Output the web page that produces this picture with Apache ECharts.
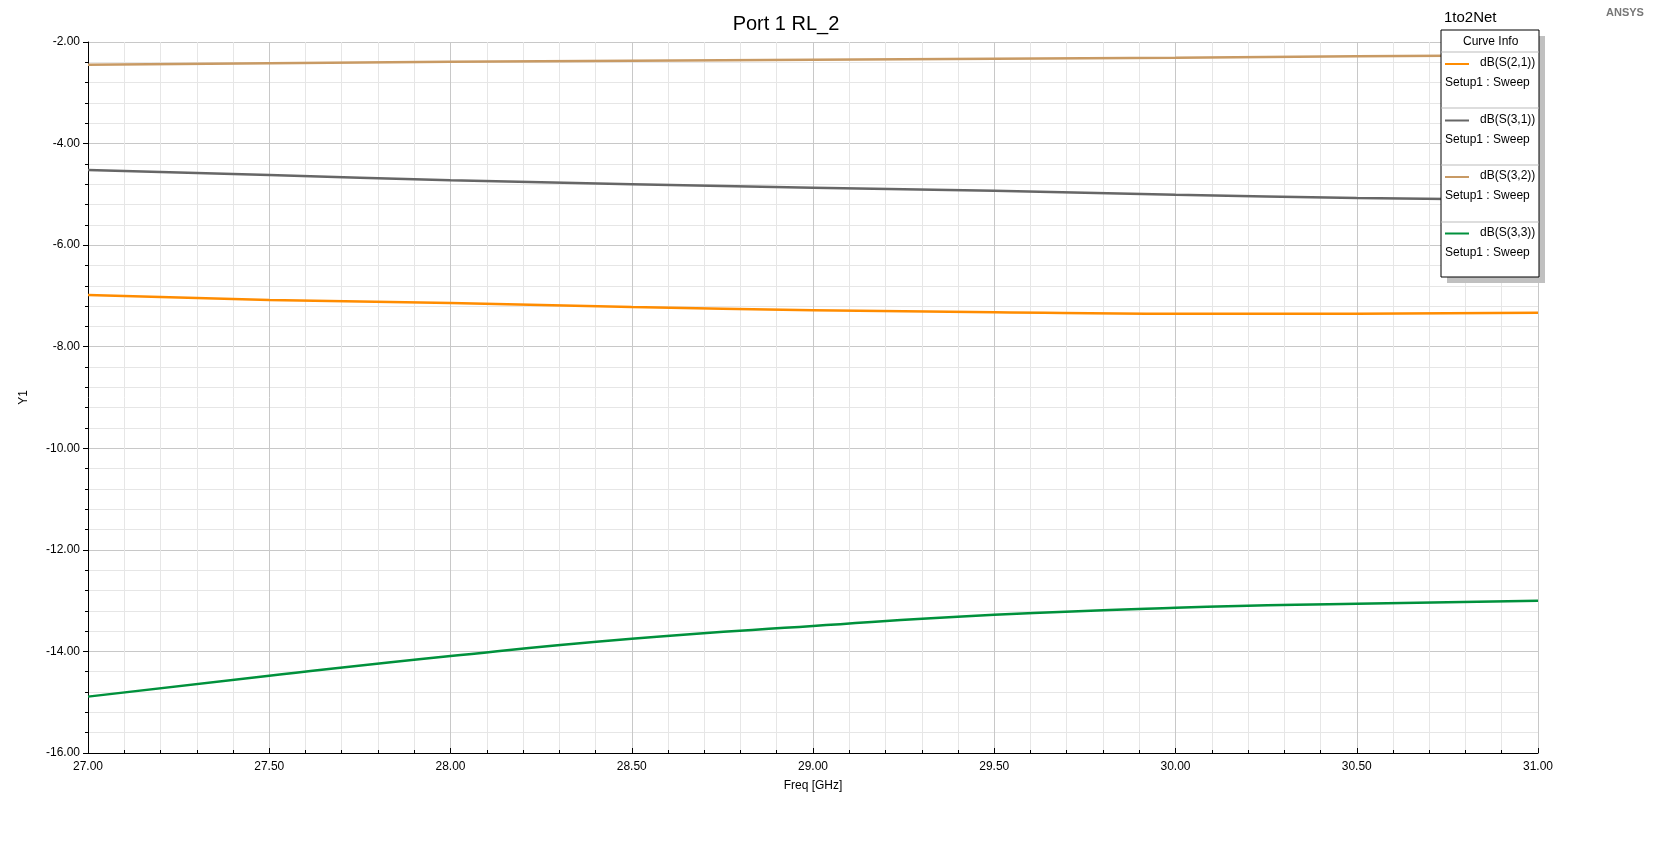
<!DOCTYPE html>
<html>
<head>
<meta charset="utf-8">
<script src="https://cdn.jsdelivr.net/npm/echarts@6/dist/echarts.min.js"></script>
<style>html,body{margin:0;padding:0;background:#fff}#c{width:1665px;height:860px}</style>
</head>
<body>
<div id="c"></div>
<script>
var freq = [27, 27.5, 28, 28.5, 29, 29.5, 30, 30.5, 31]
var s21 = [-6.98, -7.08, -7.14, -7.22, -7.28, -7.32, -7.35, -7.35, -7.33]
var s31 = [-4.52, -4.62, -4.72, -4.80, -4.87, -4.93, -5.01, -5.07, -5.11]
var s32 = [-2.45, -2.42, -2.39, -2.37, -2.35, -2.33, -2.31, -2.28, -2.26]
var s33 = [-14.89, -14.48, -14.09, -13.75, -13.50, -13.28, -13.14, -13.06, -13.00]
var names = ['dB(S(2,1))', 'dB(S(3,1))', 'dB(S(3,2))', 'dB(S(3,3))']
var colors = ['#ff8c00', '#666666', '#c89a64', '#00913c']

function pairs(v) { return freq.map(function (f, i) { return [f, v[i]] }) }

var chart = echarts.init(document.getElementById('c'))
var F = 'Arial, "Liberation Sans", sans-serif'

// legend box drawn by hand, like the HFSS curve info panel
var g = [
  { type: 'rect', shape: { x: 1447, y: 36, width: 98, height: 247 }, style: { fill: '#c0c0c0' }, z: 10 },
  { type: 'rect', shape: { x: 1441, y: 30, width: 98, height: 247 }, style: { fill: '#fff', stroke: '#000', lineWidth: 1 }, z: 11 },
  { type: 'text', left: 1463, top: 36, style: { text: 'Curve Info', font: '12px ' + F, fill: '#000' }, z: 12 },
  { type: 'text', left: 1444, top: 10, style: { text: '1to2Net', font: '15px ' + F, fill: '#000' }, z: 12 },
  { type: 'text', left: 1606, top: 7, style: { text: 'ANSYS', font: 'bold 11px ' + F, fill: '#777' }, z: 12 }
]
var sepY = [52, 108, 165, 222]
for (var i = 0; i < 4; i++) {
  g.push({ type: 'line', shape: { x1: 1441, y1: sepY[i], x2: 1539, y2: sepY[i] }, style: { stroke: '#bbb', lineWidth: 1 }, z: 12 })
  var y0 = 64 + i * 56.5
  g.push({ type: 'line', shape: { x1: 1445, y1: y0, x2: 1469, y2: y0 }, style: { stroke: colors[i], lineWidth: 2 }, z: 12 })
  g.push({ type: 'text', left: 1480, top: y0 - 7, style: { text: names[i], font: '12px ' + F, fill: '#000' }, z: 12 })
  g.push({ type: 'text', left: 1445, top: y0 + 13, style: { text: 'Setup1 : Sweep', font: '12px ' + F, fill: '#000' }, z: 12 })
}

var option = {
  animation: false,
  title: { text: 'Port 1 RL_2', left: 781, top: 9, textAlign: 'center', textStyle: { fontFamily: F, fontSize: 20, fontWeight: 'normal', color: '#000' } },
  grid: { left: 88, right: 127, top: 42, bottom: 107 },
  xAxis: {
    type: 'value', min: 27, max: 31, interval: 0.5,
    name: 'Freq [GHz]', nameLocation: 'middle', nameGap: 27,
    nameTextStyle: { fontFamily: F, fontSize: 12, color: '#000' },
    axisLine: { show: true, onZero: false, lineStyle: { color: '#000' } },
    axisTick: { show: true, inside: true, length: 5, lineStyle: { color: '#000' } },
    minorTick: { show: true, splitNumber: 5, length: 3, lineStyle: { color: '#000' } },
    axisLabel: { fontFamily: F, fontSize: 12, color: '#000', formatter: function (v) { return v.toFixed(2) } },
    splitLine: { show: true, lineStyle: { color: '#c8c8c8' } },
    minorSplitLine: { show: true, lineStyle: { color: '#e6e6e6' } }
  },
  yAxis: {
    type: 'value', min: -16, max: -2, interval: 2,
    name: 'Y1', nameLocation: 'middle', nameGap: 58, nameRotate: 90,
    nameTextStyle: { fontFamily: F, fontSize: 12, color: '#000' },
    axisLine: { show: true, onZero: false, lineStyle: { color: '#000' } },
    axisTick: { show: true, length: 5, lineStyle: { color: '#000' } },
    minorTick: { show: true, splitNumber: 5, length: 3, lineStyle: { color: '#000' } },
    axisLabel: { fontFamily: F, fontSize: 12, color: '#000', formatter: function (v) { return v.toFixed(2) } },
    splitLine: { show: true, lineStyle: { color: '#c8c8c8' } },
    minorSplitLine: { show: true, lineStyle: { color: '#e6e6e6' } }
  },
  graphic: g,
  series: [s21, s31, s32, s33].map(function (v, i) {
    return { name: names[i], type: 'line', smooth: true, showSymbol: false, data: pairs(v), lineStyle: { color: colors[i], width: 2.5 }, itemStyle: { color: colors[i] } }
  })
}
chart.setOption(option)
</script>
</body>
</html>
